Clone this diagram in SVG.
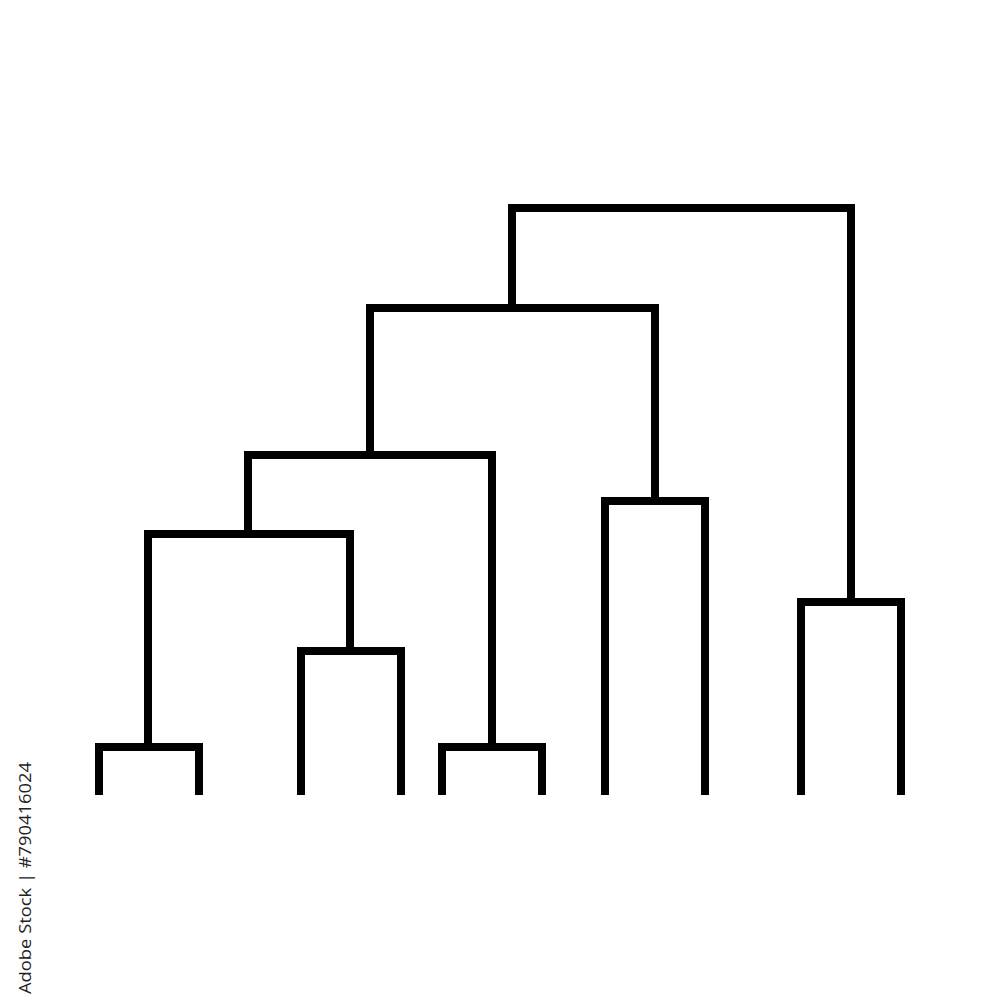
<svg xmlns="http://www.w3.org/2000/svg" width="1000" height="1000" viewBox="0 0 1000 1000">
<style>
.ln{fill:none;stroke:#000;stroke-width:8;stroke-linejoin:miter;stroke-linecap:butt}
.wm{font-family:"Open Sans","Liberation Sans",sans-serif;font-size:17px;fill:#222}
</style>
<rect width="1000" height="1000" fill="#fff"/>
<g id="connectors">
<path class="ln" d="M148,747 V534"/>
<path class="ln" d="M350,534 V651"/>
<path class="ln" d="M248,534 V455"/>
<path class="ln" d="M492,455 V747"/>
<path class="ln" d="M370,455 V308"/>
<path class="ln" d="M655,308 V501"/>
<path class="ln" d="M512,308 V208"/>
<path class="ln" d="M851,208 V602"/>
</g>
<g id="leafA"><path class="ln" d="M99,795 V747 H199 V795"/></g>
<g id="leafB"><path class="ln" d="M301,795 V651 H401 V795"/></g>
<g id="leafC"><path class="ln" d="M442,795 V747 H542 V795"/></g>
<g id="leafD"><path class="ln" d="M605,795 V501 H705 V501 V795"/></g>
<g id="leafE"><path class="ln" d="M801,795 V602 H901 V795"/></g>
<g id="clusterAB"><path class="ln" d="M144,534 H354"/></g>
<g id="clusterABC"><path class="ln" d="M244,455 H496"/></g>
<g id="clusterABCD"><path class="ln" d="M366,308 H659"/></g>
<g id="root"><path class="ln" d="M508,208 H855"/></g>
<text class="wm" transform="translate(31,878) rotate(-90)" text-anchor="middle" textLength="232" lengthAdjust="spacingAndGlyphs">Adobe Stock | #790416024</text>
</svg>
